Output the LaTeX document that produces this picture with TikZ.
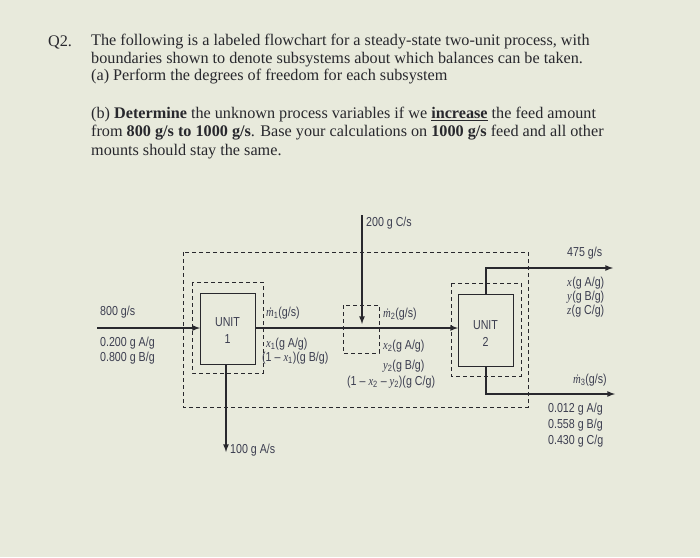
\documentclass[tikz,border=0pt]{standalone}
\usepackage{fontspec}
\setmainfont{Liberation Serif}
\newfontfamily\lab{Liberation Sans}
\newcommand{\vv}[2]{{\rmfamily\itshape #1}\textsubscript{#2}}
\definecolor{bg}{RGB}{232,234,220}
\definecolor{ink}{RGB}{40,40,45}
\definecolor{lbl}{RGB}{60,62,80}
\begin{document}
\begin{tikzpicture}[x=1pt,y=-1pt,
  hdr/.style={anchor=west,inner sep=0,font=\fontsize{16.2}{18}\selectfont,text=ink},
  lb/.style={anchor=west,inner sep=0,font=\lab\fontsize{13}{14}\selectfont,text=lbl,xscale=0.82},
  unitbox/.style={draw=ink,line width=1pt,fill=none},
  bnd/.style={draw=ink,line width=0.8pt,dash pattern=on 4pt off 3pt},
  flow/.style={draw=ink,line width=1.6pt,-latex}]
\fill[bg] (0,0) rectangle (700,557);
\useasboundingbox (0,0) rectangle (700,557);
% header
\node[hdr] (q) at (48,42) {Q2.};
\node[hdr] (l1) at (91,42) {The following is a labeled flowchart for a steady-state two-unit process, with};
\node[hdr] (l2) at (91,60) {boundaries shown to denote subsystems about which balances can be taken.};
\node[hdr] (l3) at (91,77) {(a) Perform the degrees of freedom for each subsystem};
\node[hdr] (l4) at (91,115) {(b) \textbf{Determine} the unknown process variables if we \textbf{\underline{increase}} the feed amount};
\node[hdr] (l5) at (91,133) {from \textbf{800 g/s to 1000 g/s}. Base your calculations on \textbf{1000 g/s} feed and all other};
\node[hdr] (l6) at (91,152) {mounts should stay the same.};
% boundaries
\path[bnd] (183,252) rectangle (528,407);
\path[bnd] (192,282) rectangle (263,373);
\path[bnd] (343,305) rectangle (379,353);
\path[bnd] (451,283) rectangle (521,376);
% units
\node[unitbox,minimum width=55pt,minimum height=71pt,inner sep=0] (u1) at (227.5,328.5) {};
\node[lb,anchor=center] at (227.5,322) {UNIT};
\node[lb,anchor=center] at (227.5,339) {1};
\node[unitbox,minimum width=55pt,minimum height=72pt,inner sep=0] (u2) at (485.5,330) {};
\node[lb,anchor=center] at (485.5,325) {UNIT};
\node[lb,anchor=center] at (485.5,342) {2};
% coordinates
\coordinate (fin) at (97,328);
\coordinate (u1in) at (200,328);
\coordinate (u1out) at (255,328);
\coordinate (u1bot) at (226,364);
\coordinate (p100) at (226,452);
\coordinate (c0) at (362,215);
\coordinate (c1) at (362,324);
\coordinate (u2in) at (458,328);
\coordinate (t0) at (486,294);
\coordinate (t1) at (486,268);
\coordinate (t2) at (613,268);
\coordinate (b0) at (486,366);
\coordinate (b1) at (486,394);
\coordinate (b2) at (615,394);
% flows
\draw[flow] (fin) -- (u1in);
\draw[flow] (u1bot) -- (p100);
\draw[flow] (c0) -- (c1);
\draw[flow] (u1out) -- (u2in);
\draw[flow] (t0) -- (t1) -- (t2);
\draw[flow] (b0) -- (b1) -- (b2);
% labels
\node[lb] (f1) at (100,312) {800 g/s};
\node[lb] (f2) at (100,343) {0.200 g A/g};
\node[lb] (f3) at (100,358) {0.800 g B/g};
\node[lb] (m1) at (266,313) {\vv{ṁ}{1}(g/s)};
\node[lb] (x1) at (266,344) {\vv{x}{1}(g A/g)};
\node[lb] (x1b) at (262,358) {(1 – \vv{x}{1})(g B/g)};
\node[lb] (cin) at (366,223) {200 g C/s};
\node[lb] (m2) at (383,314) {\vv{ṁ}{2}(g/s)};
\node[lb] (x2) at (383,346) {\vv{x}{2}(g A/g)};
\node[lb] (y2) at (383,366) {\vv{y}{2}(g B/g)};
\node[lb] (z2) at (347,382) {(1 – \vv{x}{2} – \vv{y}{2})(g C/g)};
\node[lb] (p100l) at (230,450) {100 g A/s};
\node[lb] (o1) at (567,253) {475 g/s};
\node[lb] (o2) at (567,283) {\vv{x}{}(g A/g)};
\node[lb] (o3) at (567,297) {\vv{y}{}(g B/g)};
\node[lb] (o4) at (567,311) {\vv{z}{}(g C/g)};
\node[lb] (m3) at (573,380) {\vv{ṁ}{3}(g/s)};
\node[lb] (b3) at (548,409) {0.012 g A/g};
\node[lb] (b4) at (548,425) {0.558 g B/g};
\node[lb] (b5) at (548,441) {0.430 g C/g};
\end{tikzpicture}
\end{document}
